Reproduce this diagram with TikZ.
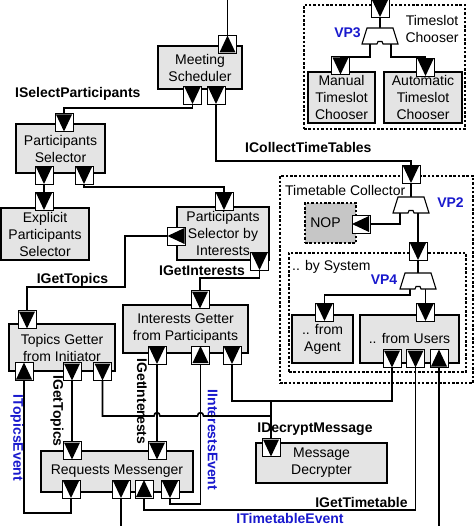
\documentclass[tikz,border=0pt]{standalone}
\usepackage{fontspec}
\setmainfont{Liberation Sans}
\definecolor{boxgray}{RGB}{228,228,228}
\definecolor{nopgray}{RGB}{198,198,198}
\definecolor{vpblue}{RGB}{25,25,205}
\newcommand\fs{\fontsize{14}{17}\selectfont}
\newcommand\muxat[2]{\draw[muxst] (#1-13,#2) -- (#1+13,#2) -- (#1+18,#2+16) -- (#1+3,#2+16) -- (#1+2,#2+13.5) -- (#1-2,#2+13.5) -- (#1-3,#2+16) -- (#1-18,#2+16) -- cycle;}
\tikzset{
  comp/.style={draw, line width=1.5pt, fill=boxgray, inner sep=0pt, align=center, font=\fs},
  nopbox/.style={draw, line width=1.5pt, fill=nopgray, dash pattern=on 2.5pt off 1.8pt, inner sep=0pt, align=center, font=\fs},
  cont/.style={draw, line width=1.4pt, dash pattern=on 2.5pt off 1.8pt, inner sep=0pt},
  lbl/.style={inner sep=0pt, font=\fs, align=center},
  lblb/.style={inner sep=0pt, font=\fs\bfseries},
  lblv/.style={inner sep=0pt, font=\fs\bfseries, text=vpblue},
  conn/.style={line width=1.6pt},
  muxst/.style={draw, fill=white, line width=1.1pt, line join=miter},
  portbase/.style={draw, fill=white, line width=0.8pt, minimum size=18pt, inner sep=0pt, outer sep=0pt},
  portd/.style={portbase, path picture={\fill[black] ([xshift=1pt,yshift=-1pt]path picture bounding box.north west) -- ([xshift=-1pt,yshift=-1pt]path picture bounding box.north east) -- (path picture bounding box.south) -- cycle;}},
  portu/.style={portbase, path picture={\fill[black] ([xshift=1pt,yshift=1pt]path picture bounding box.south west) -- ([xshift=-1pt,yshift=1pt]path picture bounding box.south east) -- (path picture bounding box.north) -- cycle;}},
  portl/.style={portbase, path picture={\fill[black] ([xshift=-1pt,yshift=-1pt]path picture bounding box.north east) -- ([xshift=-1pt,yshift=1pt]path picture bounding box.south east) -- (path picture bounding box.west) -- cycle;}},
}
\begin{document}
\begin{tikzpicture}[x=1pt,y=-1pt]
\useasboundingbox (0,0) rectangle (474,526);
% containers
\node[cont, minimum width=161pt, minimum height=124pt] (tsc) at (384.5,67) {};
\node[cont, minimum width=193pt, minimum height=207pt] (tc) at (376.5,279.5) {};
\node[cont, minimum width=177pt, minimum height=119pt] (bs) at (377.5,312.5) {};
\node[lbl] (tsclbl) at (432,28.5) {Timeslot\\Chooser};
\node[lbl, anchor=west] (tclbl) at (285,190) {Timetable Collector};
\node[lbl, anchor=west] (bslbl) at (292,267) {.. by System};
% components
\node[comp, minimum width=84pt, minimum height=43pt] (ms) at (200,67.5) {Meeting\\Scheduler};
\node[comp, minimum width=89pt, minimum height=49pt] (ps) at (60.5,148.5) {Participants\\Selector};
\node[comp, minimum width=88pt, minimum height=52pt] (eps) at (45,234) {Explicit\\Participants\\Selector};
\node[comp, minimum width=92pt, minimum height=53pt] (psi) at (223,233.5) {Participants\\Selector by\\Interests};
\node[comp, minimum width=106pt, minimum height=47pt] (tg) at (62,347.5) {Topics Getter\\from Initiator};
\node[comp, minimum width=125pt, minimum height=48pt] (ig) at (185.5,329) {Interests Getter\\from Participants};
\node[comp, minimum width=152pt, minimum height=41pt] (rm) at (117,471.5) {Requests Messenger};
\node[comp, minimum width=131pt, minimum height=40pt] (md) at (321.5,463) {Message\\Decrypter};
\node[comp, minimum width=67pt, minimum height=51pt] (mtc) at (341.5,97.5) {Manual\\Timeslot\\Chooser};
\node[comp, minimum width=78pt, minimum height=51pt] (atc) at (423,97.5) {Automatic\\Timeslot\\Chooser};
\node[nopbox, minimum width=51pt, minimum height=40pt] (nop) at (330.5,223) {NOP\hspace*{10pt}};
\node[comp, minimum width=61pt, minimum height=48pt] (fa) at (322.5,339) {.. from\\Agent};
\node[comp, minimum width=99pt, minimum height=48pt] (fu) at (409.5,339) {.. from Users};
% labels
\node[lblb, anchor=west] (lsp) at (15,94) {ISelectParticipants};
\node[lblb, anchor=west] (lct) at (245,147) {ICollectTimeTables};
\node[lblb] (lgt) at (72.5,280) {IGetTopics};
\node[lblb] (lgi) at (202,271) {IGetInterests};
\node[lblb, rotate=-90] (lgt2) at (57,411) {IGetTopics};
\node[lblb, rotate=-90] (lgi2) at (142,401.5) {IGetInterests};
\node[lblv, rotate=-90] (lte) at (17,438) {ITopicsEvent};
\node[lblv, rotate=-90] (lie) at (212.5,440) {IInterestsEvent};
\node[lblb] (ldm) at (315,429) {IDecryptMessage};
\node[lblb] (lgtt) at (361.5,502) {IGetTimetable};
\node[lblv] (ltte) at (290,518) {ITimetableEvent};
\node[lblv] (lvp3) at (347.5,33) {VP3};
\node[lblv] (lvp2) at (450.5,203) {VP2};
\node[lblv] (lvp4) at (384,280) {VP4};
% ports
\node[portu] (msT) at (227.5,44.5) {};
\node[portd] (msB1) at (192.5,95) {};
\node[portd] (msB2) at (216,95) {};
\node[portd] (psT) at (64,122.5) {};
\node[portd] (psB1) at (44,175) {};
\node[portd] (psB2) at (84,175) {};
\node[portd] (epsT) at (44,201) {};
\node[portd] (psiT) at (224,201) {};
\node[portl] (psiL) at (176.5,236) {};
\node[portd] (psiB) at (259.5,261) {};
\node[portd] (tgT) at (27,319.5) {};
\node[portu] (tgB1) at (24,371.5) {};
\node[portd] (tgB2) at (72,371.5) {};
\node[portd] (tgB3) at (102.5,371.5) {};
\node[portd] (igT) at (200,299.5) {};
\node[portd] (igB1) at (157,355) {};
\node[portu] (igB2) at (200.5,355) {};
\node[portd] (igB3) at (232,355) {};
\node[portd] (rmT1) at (72,450.5) {};
\node[portd] (rmT2) at (157,450.5) {};
\node[portd] (rmB1) at (71,489) {};
\node[portd] (rmB2) at (121,489) {};
\node[portu] (rmB3) at (144,489) {};
\node[portd] (rmB4) at (170,489) {};
\node[portd] (mdT) at (271,447.5) {};
\node[portd] (tscT) at (380,8) {};
\node[portd] (mtcT) at (340.5,65.5) {};
\node[portd] (atcT) at (425.5,67) {};
\node[portd] (tcT) at (411,174) {};
\node[portl] (nopR) at (361,224) {};
\node[portd] (bsT) at (418,251) {};
\node[portd] (faT) at (324.5,312) {};
\node[portd] (fuT) at (425.5,312) {};
\node[portd] (fuB1) at (392,358.5) {};
\node[portd] (fuB2) at (415.5,358.5) {};
\node[portu] (fuB3) at (439,358.5) {};
% mux coordinates
\coordinate (vp3in) at (380,28);
\coordinate (vp3l) at (370,44);
\coordinate (vp3r) at (391,44);
\coordinate (vp2in) at (411,197);
\coordinate (vp2l) at (400,213);
\coordinate (vp2r) at (418,213);
\coordinate (vp4in) at (418,273);
\coordinate (vp4l) at (410,289);
\coordinate (vp4r) at (425.5,289);
\coordinate (msTop) at (227.5,-3);
\coordinate (tscTop) at (380,-3);
\coordinate (rmBot) at (121,530);
\coordinate (fuBot) at (439,530);
% connectors
\draw[conn] (msT.north) -- (msTop);
\draw[conn] (tscT.north) -- (tscTop);
\draw[conn] (msB1.south) |- (64,108) -- (psT.north);
\draw[conn] (msB2.south) |- (411,161) -- (tcT.north);
\draw[conn] (psB1.south) -- (epsT.north);
\draw[conn] (psB2.south) |- (224,187) -- (psiT.north);
\draw[conn] (psiL.west) -| (125,287) -| (tgT.north);
\draw[conn] (psiB.south) |- (200,278) -- (igT.north);
\draw[conn] (tgB2.south) -- (rmT1.north);
\draw[conn] (igB1.south) -- (rmT2.north);
\draw[conn] (rmB1.south) |- (24,513) -- (tgB1.south);
\draw[conn] (rmB4.south) |- (200.5,504) -- (igB2.south);
\draw[conn] (rmB3.south) |- (415.5,510) -- (fuB2.south);
\draw[conn] (rmB2.south) -- (rmBot);
\draw[conn] (fuB3.south) -- (fuBot);
\draw[conn] (tgB3.south) |- (154,416) .. controls (154,411.5) and (160,411.5) .. (160,416) -- (197.5,416) .. controls (197.5,411.5) and (203.5,411.5) .. (203.5,416) -- (271,416);
\draw[conn] (igB3.south) |- (271,401);
\draw[conn] (fuB1.south) |- (271,401) -- (mdT.north);
\draw[conn] (tscT.south) -- (vp3in);
\draw[conn] (vp3l) |- (340.5,57) -- (mtcT.north);
\draw[conn] (vp3r) |- (425.5,57) -- (atcT.north);
\draw[conn] (tcT.south) -- (vp2in);
\draw[conn] (vp2l) |- (nopR.east);
\draw[conn] (vp2r) -- (bsT.north);
\draw[conn] (bsT.south) -- (vp4in);
\draw[conn] (vp4l) |- (324.5,295) -- (faT.north);
\draw[conn] (vp4r) -- (fuT.north);
% muxes
\muxat{380}{28}
\muxat{411}{197}
\muxat{418}{273}
\end{tikzpicture}
\end{document}
